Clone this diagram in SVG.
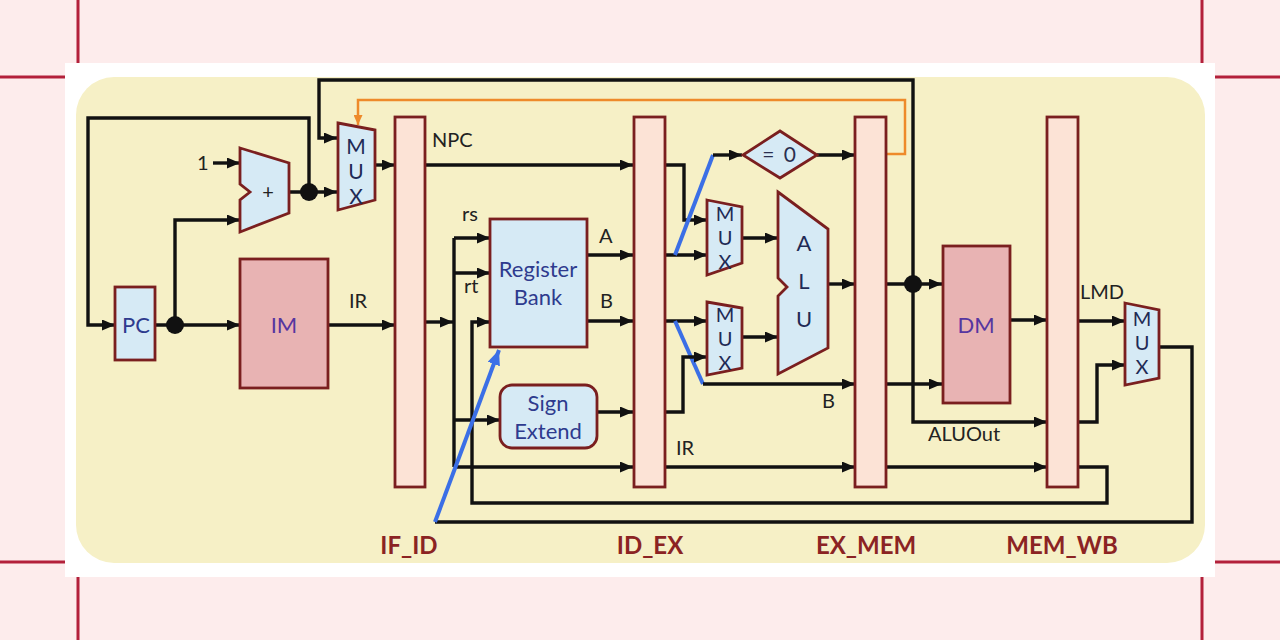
<svg xmlns="http://www.w3.org/2000/svg" width="1280" height="640" viewBox="0 0 1280 640">
<style>
.wire{fill:none;stroke:#111;stroke-width:3.4;stroke-linejoin:miter}
.arr{marker-end:url(#ah)}
.blue{fill:none;stroke:#3B6FE6;stroke-width:4}
.orange{fill:none;stroke:#EE8A2A;stroke-width:2.5}
.box{fill:#D6EAF5;stroke:#7A1F1F;stroke-width:2.8}
.mem{fill:#E8B3B3;stroke:#7A1F1F;stroke-width:2.8}
.reg{fill:#FCE3D6;stroke:#7A1F1F;stroke-width:2.8}
.lbl{font-family:Lato,"Liberation Sans",sans-serif;font-size:20px;fill:#222}
.btx{font-family:Lato,"Liberation Sans",sans-serif;font-size:22px;fill:#2E3B8E;text-anchor:middle}
.mtx{font-family:Lato,"Liberation Sans",sans-serif;font-size:22px;fill:#5636A0;text-anchor:middle}
.mux{font-family:Lato,"Liberation Sans",sans-serif;font-size:20px;fill:#1F2A55;text-anchor:middle;writing-mode:vertical-rl;text-orientation:upright}
.sym{font-family:Lato,"Liberation Sans",sans-serif;fill:#1F2A55;text-anchor:middle}
.rlb{font-family:Lato,"Liberation Sans",sans-serif;font-size:24px;font-weight:bold;fill:#8B2323;text-anchor:middle}
.dot{fill:#111}
.frame{stroke:#B3203A;stroke-width:3}
</style>
<defs>
<marker id="ah" markerUnits="userSpaceOnUse" markerWidth="13" markerHeight="11" refX="13" refY="5.5" orient="auto"><path d="M0,0 L13,5.5 L0,11 z" fill="#111"/></marker>
<marker id="ahb" markerUnits="userSpaceOnUse" markerWidth="15" markerHeight="13" refX="15" refY="6.5" orient="auto"><path d="M0,0 L15,6.5 L0,13 z" fill="#3B6FE6"/></marker>
<marker id="aho" markerUnits="userSpaceOnUse" markerWidth="10" markerHeight="9" refX="10" refY="4.5" orient="auto"><path d="M0,0 L10,4.5 L0,9 z" fill="#EE8A2A"/></marker>
</defs>
<rect x="0" y="0" width="1280" height="640" fill="#FDECEC"/>
<g id="frame">
<line class="frame" x1="78" y1="0" x2="78" y2="64"/>
<line class="frame" x1="78" y1="576" x2="78" y2="640"/>
<line class="frame" x1="1202" y1="0" x2="1202" y2="64"/>
<line class="frame" x1="1202" y1="576" x2="1202" y2="640"/>
<line class="frame" x1="0" y1="77" x2="66" y2="77"/>
<line class="frame" x1="0" y1="562" x2="66" y2="562"/>
<line class="frame" x1="1214" y1="77" x2="1280" y2="77"/>
<line class="frame" x1="1214" y1="562" x2="1280" y2="562"/>
<rect x="65" y="63" width="1150" height="514" fill="#FFFFFF"/>
<rect x="76" y="77" width="1129" height="486" rx="38" ry="38" fill="#F6F0C6"/>
</g>
<g id="connectors">
<path class="wire arr" d="M213,163 H240"/>
<path class="wire arr" d="M175,325 V220 H240"/>
<path class="wire arr" d="M155,325 H240"/>
<path class="wire arr" d="M289,192 H337"/>
<path class="wire arr" d="M309,192 V118 H88 V325 H115"/>
<path class="wire arr" d="M913,284 V80 H319 V138 H337"/>
<path class="orange" d="M886,154 H905 V100 H358 V125" marker-end="url(#aho)"/>
<path class="wire arr" d="M375,165 H395"/>
<path class="wire arr" d="M328,325 H395"/>
<path class="wire arr" d="M425,165 H633"/>
<path class="wire arr" d="M425,322 H453"/>
<path class="wire" d="M454,238 V467"/>
<path class="wire arr" d="M454,238 H490"/>
<path class="wire arr" d="M454,273 H490"/>
<path class="wire arr" d="M454,420 H500"/>
<path class="wire arr" d="M454,467 H633"/>
<path class="wire arr" d="M1078,467 H1107 V503 H472 V322 H490"/>
<path class="wire" d="M1159,347 H1192 V522 H435"/>
<path class="blue" d="M435,522 L499,350" marker-end="url(#ahb)"/>
<path class="wire arr" d="M587,255 H633"/>
<path class="wire arr" d="M587,321 H633"/>
<path class="wire arr" d="M597,412 H633"/>
<path class="wire arr" d="M665,165 H684 V220 H707"/>
<path class="wire arr" d="M665,255 H707"/>
<path class="blue" d="M675,255 L713,155"/>
<path class="wire arr" d="M713,155 H742"/>
<path class="wire arr" d="M817,155 H855"/>
<path class="wire arr" d="M742,238 H778"/>
<path class="wire arr" d="M665,321 H707"/>
<path class="blue" d="M675,321 L703,384"/>
<path class="wire arr" d="M703,384 H855"/>
<path class="wire arr" d="M665,412 H683 V357 H707"/>
<path class="wire arr" d="M742,337 H778"/>
<path class="wire arr" d="M828,284 H855"/>
<path class="wire arr" d="M886,284 H942"/>
<path class="wire arr" d="M913,284 V422 H1047"/>
<path class="wire arr" d="M886,384 H942"/>
<path class="wire arr" d="M665,467 H855"/>
<path class="wire arr" d="M886,467 H1047"/>
<path class="wire arr" d="M1010,320 H1047"/>
<path class="wire arr" d="M1078,321 H1125"/>
<path class="wire arr" d="M1078,422 H1097 V365 H1125"/>
<circle class="dot" cx="175" cy="325" r="9"/>
<circle class="dot" cx="309" cy="192" r="9"/>
<circle class="dot" cx="913" cy="284" r="9"/>
</g>
<g id="labels">
<text class="lbl" x="197" y="170">1</text>
<text class="lbl" x="432" y="147">NPC</text>
<text class="lbl" x="349" y="308">IR</text>
<text class="lbl" x="462" y="221">rs</text>
<text class="lbl" x="464" y="293">rt</text>
<text class="lbl" x="599" y="243">A</text>
<text class="lbl" x="600" y="308">B</text>
<text class="lbl" x="822" y="408">B</text>
<text class="lbl" x="676" y="455">IR</text>
<text class="lbl" x="928" y="441">ALUOut</text>
<text class="lbl" x="1080" y="299">LMD</text>
</g>
<g id="pc"><rect class="box" x="115" y="287" width="40" height="73"/><text class="btx" x="136" y="333">PC</text></g>
<g id="adder"><polygon class="box" points="240,148 289,163 289,213 240,232 240,200 250,192 240,184"/><text class="sym" x="268" y="199" style="font-size:20px;fill:#222">+</text></g>
<g id="im"><rect class="mem" x="240" y="259" width="88" height="129"/><text class="mtx" x="284" y="333">IM</text></g>
<g id="mux-pc"><polygon class="box" points="338,123 375,130 375,200 338,210"/><text class="mux" x="356" y="170" style="font-size:21px">MUX</text></g>
<g id="if_id"><rect class="reg" x="395" y="117" width="30" height="370"/><text class="rlb" x="409" y="554">IF_ID</text></g>
<g id="regbank"><rect class="box" x="490" y="219" width="97" height="128"/><text class="btx" x="538" y="277">Register</text><text class="btx" x="538" y="305">Bank</text></g>
<g id="signext"><rect class="box" x="500" y="385" width="97" height="63" rx="12" ry="12"/><text class="btx" x="548" y="411">Sign</text><text class="btx" x="548" y="439">Extend</text></g>
<g id="id_ex"><rect class="reg" x="634" y="117" width="31" height="370"/><text class="rlb" x="650" y="554">ID_EX</text></g>
<g id="zero"><polygon class="box" points="743,155 780,131 817,155 780,178"/><text class="sym" x="780" y="162" style="font-size:21px;letter-spacing:2px;fill:#2A2F50">= 0</text></g>
<g id="mux-a"><polygon class="box" points="707,200 742,207 742,263 707,275"/><text class="mux" x="725" y="237">MUX</text></g>
<g id="mux-b"><polygon class="box" points="707,302 742,308 742,368 707,375"/><text class="mux" x="725" y="338">MUX</text></g>
<g id="alu"><polygon class="box" points="778,192 828,229 828,348 778,374 778,296 787,287 778,278"/><text class="mux" x="804" y="286" style="font-size:22px;letter-spacing:11px">ALU</text></g>
<g id="ex_mem"><rect class="reg" x="855" y="117" width="31" height="370"/><text class="rlb" x="866" y="554">EX_MEM</text></g>
<g id="dm"><rect class="mem" x="943" y="246" width="67" height="157"/><text class="mtx" x="976" y="333">DM</text></g>
<g id="mem_wb"><rect class="reg" x="1047" y="117" width="31" height="370"/><text class="rlb" x="1062" y="554">MEM_WB</text></g>
<g id="mux-wb"><polygon class="box" points="1125,303 1159,310 1159,378 1125,385"/><text class="mux" x="1142" y="342">MUX</text></g>
</svg>
